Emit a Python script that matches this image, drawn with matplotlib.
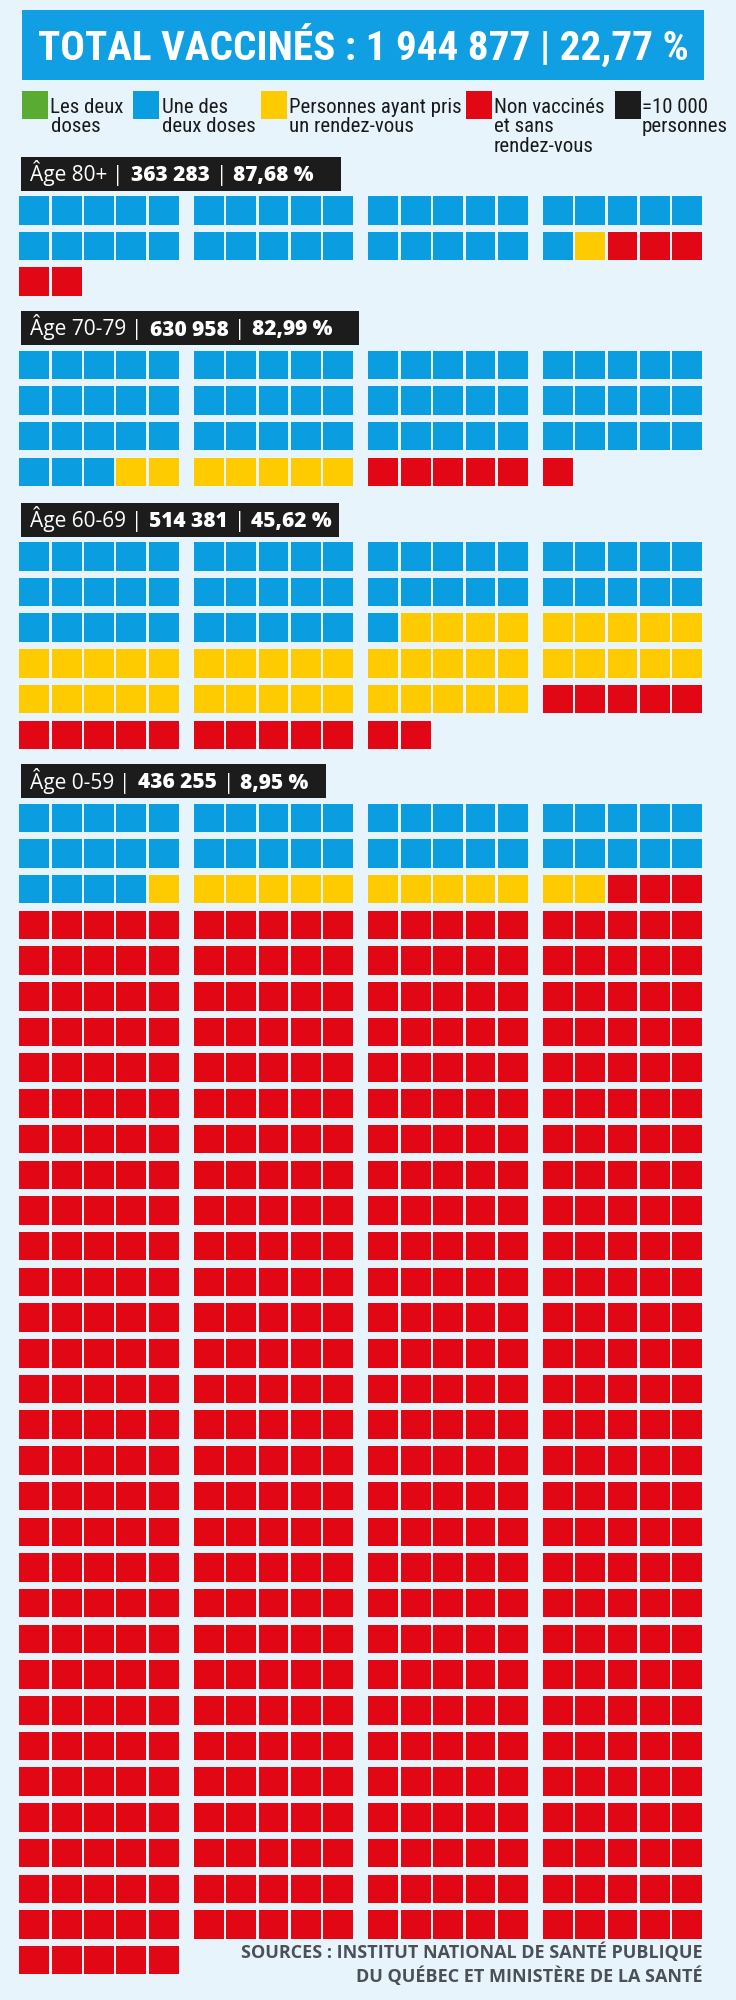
import matplotlib
matplotlib.use("Agg")
import matplotlib.pyplot as plt
from matplotlib.patches import Rectangle
from matplotlib import font_manager
from matplotlib.font_manager import FontProperties

# Values (1 square = 10 000 persons)
title = "TOTAL VACCINÉS : 1 944 877 | 22,77 %"
legend_labels = [["Les deux", "doses"],
                 ["Une des", "deux doses"],
                 ["Personnes ayant pris", "un rendez-vous"],
                 ["Non vaccinés", "et sans", "rendez-vous"],
                 ["=10 000", "personnes"]]
age_groups = ["80+", "70-79", "60-69", "0-59"]
vaccinated = ["363 283", "630 958", "514 381", "436 255"]
percent = ["87,68 %", "82,99 %", "45,62 %", "8,95 %"]
two_doses = [0, 0, 0, 0]
one_dose = [36, 63, 51, 44]
appointment = [1, 7, 44, 13]
not_vaccinated = [5, 6, 17, 588]
sources = ["SOURCES : INSTITUT NATIONAL DE SANTÉ PUBLIQUE",
           "DU QUÉBEC ET MINISTÈRE DE LA SANTÉ"]

# colours
bg = "#e8f4fc"
c_green = "#5aab31"
c_blue = "#0a9de0"
c_yellow = "#fecb00"
c_red = "#e20714"
c_black = "#1c1c1c"
legend_colors = [c_green, c_blue, c_yellow, c_red, c_black]


# look for a narrow face among installed fonts
def narrow_font(bold):
    prefs = ["Liberation Sans Narrow", "Roboto Condensed", "Open Sans Condensed",
             "Noto Sans", "DejaVu Sans", "Lato", "Inter"]
    best = None
    for f in font_manager.fontManager.ttflist:
        st = f.stretch
        cond = (isinstance(st, str) and "condensed" in st) or \
               (isinstance(st, (int, float)) and st < 500) or \
               "Condensed" in f.name or "Narrow" in f.name
        if not cond or f.style != "normal":
            continue
        w = f.weight if isinstance(f.weight, (int, float)) else font_manager.weight_dict.get(f.weight, 400)
        if bold != (w >= 600) or w > 800:
            continue
        rank = prefs.index(f.name) if f.name in prefs else len(prefs)
        if best is None or rank < best[0]:
            best = (rank, f.fname)
    if best:
        return FontProperties(fname=best[1])
    return FontProperties(family="Roboto", weight="bold" if bold else "normal")


fp_title = narrow_font(True)
fp_legend = narrow_font(False)

fig = plt.figure(figsize=(7.36, 20), dpi=100, facecolor=bg)
ax = fig.add_axes([0, 0, 1, 1])
ax.set_xlim(0, 736)
ax.set_ylim(2000, 0)
ax.axis("off")
ax.set_facecolor(bg)
renderer = fig.canvas.get_renderer()

# banner
ax.add_patch(Rectangle((22, 9.5), 682, 70.5, facecolor="#109fe2", edgecolor="none"))
t = ax.text(363, 46, title, color="white", ha="center", va="center",
            fontproperties=fp_title)
t.set_fontsize(30)
w = t.get_window_extent(renderer).width
t.set_fontsize(min(30 * 650 / w, 46))

# legend
leg_sq_x = [22, 133, 261, 466, 615]
leg_txt_x = [50.5, 162, 289, 494, 642]
leg_room = [78, 95, 172, 115, 90]
leg_texts = []
size = 20
for sx, tx, col, lines, room in zip(leg_sq_x, leg_txt_x, legend_colors,
                                     legend_labels, leg_room):
    ax.add_patch(Rectangle((sx, 91), 26, 28, facecolor=col, edgecolor="none"))
    for i, line in enumerate(lines):
        tt = ax.text(tx, 113 + i * 19.5, line, color="#1a1a1a", ha="left",
                     va="baseline", fontproperties=fp_legend)
        tt.set_fontsize(20)
        leg_texts.append(tt)
        size = min(size, 20 * room / tt.get_window_extent(renderer).width)
for tt in leg_texts:
    tt.set_fontsize(size)

# waffle sections
grid_top = [196, 350.5, 542, 803.5]
box_right = [341, 359, 339, 326]
sq_w, sq_h = 29.8, 28.5
pitch_x, pitch_y = 32.4, 35.7
group_gap = 12.5
x0 = 19.3


def label(x, y, pieces):
    for txt, weight, gap in pieces:
        tt = ax.text(x, y, txt, color="white", fontsize=15, fontweight=weight,
                     family="Open Sans", ha="left", va="baseline")
        x += tt.get_window_extent(renderer).width + gap


for k, age in enumerate(age_groups):
    top = grid_top[k]
    ax.add_patch(Rectangle((20.7, top - 39.5), box_right[k] - 20.7, 34,
                           facecolor=c_black, edgecolor="none"))
    label(30, top - 15, [("Âge " + age, "normal", 5),
                         ("|", "normal", 7),
                         (vaccinated[k], "heavy", 6),
                         ("|", "normal", 6),
                         (percent[k], "heavy", 0)])
    colors = ([c_green] * two_doses[k] + [c_blue] * one_dose[k]
              + [c_yellow] * appointment[k] + [c_red] * not_vaccinated[k])
    for i, col in enumerate(colors):
        r, c = divmod(i, 20)
        x = x0 + c * pitch_x + (c // 5) * group_gap
        y = top + r * pitch_y
        ax.add_patch(Rectangle((x, y), sq_w, sq_h, facecolor=col, edgecolor="none"))

# sources
src = []
for i, line in enumerate(sources):
    tt = ax.text(703, 1958 + i * 24, line, color="#4b5056", fontsize=12,
                 fontweight="bold", family="Open Sans", ha="right", va="baseline")
    src.append(tt)
s = 12 * 461 / src[0].get_window_extent(renderer).width
for tt in src:
    tt.set_fontsize(s)

fig.savefig("out.png", dpi=100, facecolor=bg)
